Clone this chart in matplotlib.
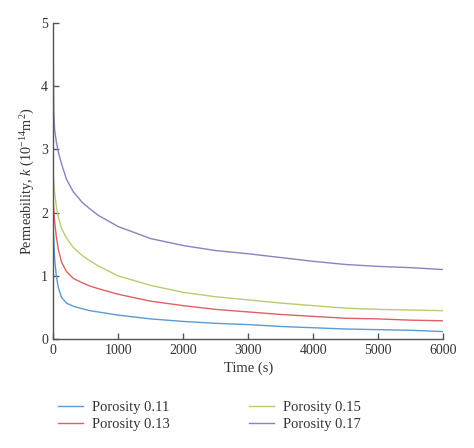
import matplotlib
matplotlib.use("Agg")
import matplotlib.pyplot as plt

plt.rcParams['font.family'] = ['Liberation Serif', 'DejaVu Serif']
plt.rcParams['mathtext.fontset'] = 'custom'
plt.rcParams['mathtext.rm'] = 'Liberation Serif'
plt.rcParams['mathtext.it'] = 'Liberation Serif:italic'

time_s = [0, 10, 25, 50, 80, 130, 205, 310, 450, 565, 690, 1000, 1500, 2000, 2500,
          3000, 3500, 4000, 4500, 5000, 5500, 6000]
k_011 = [1.75, 1.6, 1.25, 1.0, 0.82, 0.66, 0.57, 0.52, 0.48, 0.45, 0.43, 0.38, 0.32, 0.28,
         0.25, 0.23, 0.20, 0.18, 0.16, 0.15, 0.14, 0.12]
k_013 = [2.2, 2.05, 1.85, 1.62, 1.42, 1.22, 1.07, 0.96, 0.89, 0.84, 0.80, 0.71, 0.60, 0.53,
         0.47, 0.43, 0.39, 0.36, 0.33, 0.32, 0.30, 0.29]
k_015 = [2.68, 2.5, 2.3, 2.1, 1.93, 1.75, 1.6, 1.45, 1.32, 1.24, 1.16, 1.00, 0.85, 0.74,
         0.67, 0.62, 0.57, 0.53, 0.49, 0.47, 0.46, 0.45]
k_017 = [4.95, 3.6, 3.3, 3.12, 2.96, 2.77, 2.53, 2.33, 2.16, 2.06, 1.96, 1.78, 1.59, 1.48,
         1.40, 1.35, 1.29, 1.23, 1.18, 1.15, 1.13, 1.10]

labels = ['Porosity 0.11', 'Porosity 0.13', 'Porosity 0.15', 'Porosity 0.17']
colors = ['#5a9bd4', '#e06060', '#b8cc70', '#8e80c0']
series = [k_011, k_013, k_015, k_017]

fig = plt.figure(figsize=(4.74, 4.48), dpi=100)
ax = fig.add_axes([0.112, 0.243, 0.823, 0.706])

handles = []
for s, c, lab in zip(series, colors, labels):
    h, = ax.plot(time_s, s, color=c, lw=1.0, label=lab)
    handles.append(h)

ax.set_xlim(0, 6000)
ax.set_ylim(0, 5)
ax.set_xticks([0, 1000, 2000, 3000, 4000, 5000, 6000])
ax.set_yticks([0, 1, 2, 3, 4, 5])
for sp in ['top', 'right']:
    ax.spines[sp].set_visible(False)
for sp in ['left', 'bottom']:
    ax.spines[sp].set_color('#555555')
    ax.spines[sp].set_linewidth(1.0)
ax.tick_params(direction='in', length=4, width=1.0, colors='#555555', labelcolor='#333333', labelsize=10)

ax.set_xlabel('Time (s)', fontsize=10.5, color='#333333', labelpad=3)
ax.set_ylabel(r'Permeability, $k$ ($10^{-14}$m$^2$)', fontsize=10.3, color='#333333', labelpad=3)

fig.legend(handles, labels,
           loc='upper left', bbox_to_anchor=(0.095, 0.135), ncol=2, frameon=False,
           fontsize=10.5, handlelength=1.7, handletextpad=0.65, columnspacing=5.4,
           labelspacing=0.25, labelcolor='#333333')

fig.savefig('out.png', dpi=100)
